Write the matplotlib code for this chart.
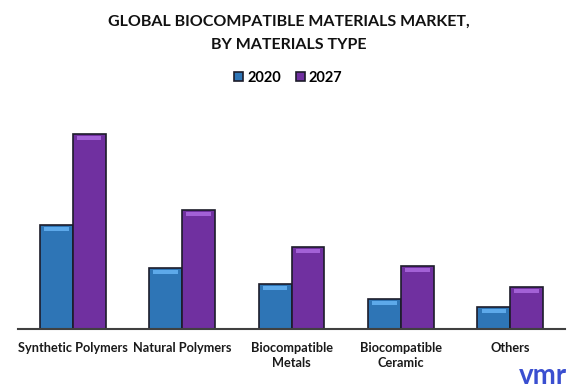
import matplotlib
matplotlib.use("Agg")
import matplotlib.pyplot as plt
import numpy as np

categories = ["Synthetic Polymers", "Natural Polymers", "Biocompatible\nMetals",
              "Biocompatible\nCeramic", "Others"]
series_names = ["2020", "2027"]
values_2020 = [104, 61, 45, 30, 22]
values_2027 = [195, 119, 82, 63, 42]

plt.rcParams['font.family'] = ['Lato', 'DejaVu Sans']

W, H = 577, 391
fig = plt.figure(figsize=(W / 100, H / 100), dpi=100)
fig.patch.set_facecolor("white")

ax_left, ax_right = 18 / W, 565 / W
ax_bottom, ax_top = (H - 329) / H, (H - 120) / H
ax = fig.add_axes([ax_left, ax_bottom, ax_right - ax_left, ax_top - ax_bottom])

x = np.arange(len(categories))
bw = 0.30
colors = ["#2E75B6", "#7030A0"]
tops = ["#5DA9EA", "#A361D6"]
edge = "#1C1C2A"
ymax = 209

for i, (vals, c, tc) in enumerate(zip([values_2020, values_2027], colors, tops)):
    xpos = x + (i - 0.5) * bw
    ax.bar(xpos, vals, width=bw, color=c, edgecolor=edge, linewidth=1.2,
           label=series_names[i], zorder=2)
    # bevel highlight near the top
    vals_arr = np.array(vals, dtype=float)
    ax.bar(xpos, np.full_like(vals_arr, 3.5), bottom=vals_arr - 5.5, width=bw * 0.75,
           color=tc, linewidth=0, zorder=3)

ax.set_xlim(-0.5, len(categories) - 0.5)
ax.set_ylim(0, ymax)
for s in ["top", "right", "left"]:
    ax.spines[s].set_visible(False)
ax.spines["bottom"].set_color("#404040")
ax.spines["bottom"].set_linewidth(1.5)
ax.set_yticks([])
ax.set_xticks(x)
ax.set_xticklabels(categories, fontsize=9.2, fontweight="bold", color="#1a1a1a",
                   linespacing=1.35)
ax.tick_params(axis="x", length=0, pad=9)

fig.text(0.5, 1 - 22 / H, "GLOBAL BIOCOMPATIBLE MATERIALS MARKET,", ha="center",
         va="center", fontsize=11.5, fontweight="bold", color="#111111")
fig.text(0.5, 1 - 45 / H, "BY MATERIALS TYPE", ha="center",
         va="center", fontsize=11.5, fontweight="bold", color="#111111")

leg = fig.legend(loc="center", bbox_to_anchor=(0.5, 1 - 78 / H), ncol=2, frameon=False,
                 handlelength=0.6, handleheight=0.6, handletextpad=0.3,
                 columnspacing=1.0, prop={"weight": "bold", "size": 10.5})

fig.text(543 / W, 1 - 376 / H, "vmr", ha="center", va="center", fontsize=20,
         color="#3A4FD0", fontweight="bold")

fig.savefig("out.png", dpi=100, facecolor="white")
